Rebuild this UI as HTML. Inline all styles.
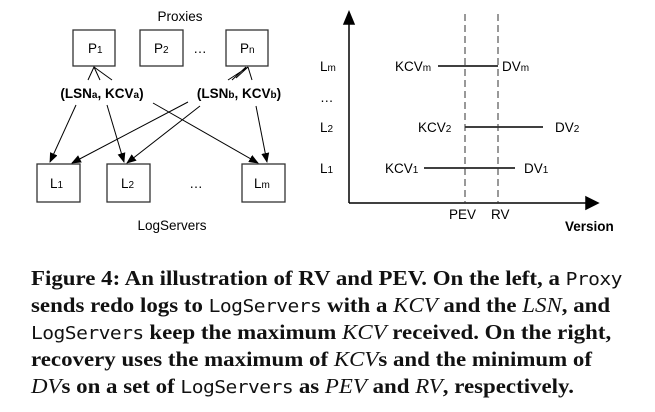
<!DOCTYPE html>
<html><head><meta charset="utf-8"><style>
body{margin:0;background:#fff;width:655px;height:412px;overflow:hidden;position:relative}
svg{position:absolute;left:0;top:0}
.cap{position:absolute;left:31px;top:265px;font:bold 21px/27px "Liberation Serif",serif;color:#111;white-space:nowrap;transform:scaleX(1.09);transform-origin:0 0}
.cap tt{font:normal 18px "DejaVu Sans Mono","Liberation Mono",monospace;letter-spacing:-0.5px}
.cap i{font-weight:normal;font-style:italic}
</style></head><body>
<svg width="655" height="412" font-family="Liberation Sans, sans-serif" font-size="13.5">
<defs><marker id="a" markerWidth="10" markerHeight="8" refX="9" refY="4" orient="auto" markerUnits="userSpaceOnUse"><path d="M0,0L10,4L0,8z" fill="#000"/></marker></defs>
<text x="180" y="21" text-anchor="middle">Proxies</text>
<g fill="#fff" stroke="#333" stroke-width="1.3">
<rect x="73" y="30" width="42" height="36"/><rect x="140" y="30" width="43" height="36"/><rect x="226" y="30" width="42" height="36"/>
<rect x="37" y="164" width="43" height="38"/><rect x="107" y="164" width="43" height="38"/><rect x="242" y="164" width="43" height="38"/>
</g>
<text x="88" y="53">P<tspan font-size="10">1</tspan></text>
<text x="154" y="53">P<tspan font-size="10">2</tspan></text>
<text x="200" y="53" text-anchor="middle">…</text>
<text x="240" y="53">P<tspan font-size="10">n</tspan></text>
<text x="50" y="188">L<tspan font-size="10">1</tspan></text>
<text x="121" y="188">L<tspan font-size="10">2</tspan></text>
<text x="196" y="188" text-anchor="middle">…</text>
<text x="254" y="188">L<tspan font-size="10">m</tspan></text>
<text x="172" y="230" text-anchor="middle">LogServers</text>
<text x="102" y="98" text-anchor="middle" font-weight="bold" font-size="13.5">(LSN<tspan font-size="10">a</tspan>, KCV<tspan font-size="10">a</tspan>)</text>
<text x="239" y="98" text-anchor="middle" font-weight="bold" font-size="13.5">(LSN<tspan font-size="10">b</tspan>, KCV<tspan font-size="10">b</tspan>)</text>
<g stroke="#000" stroke-width="1" fill="none">
<path d="M88,80L94,67L100,80M94,67L112,80" />
<path d="M228,80L248,67L236,78M248,67L252,80M246,67L232,80"/>
<line x1="76" y1="105" x2="50" y2="162" marker-end="url(#a)"/>
<line x1="107" y1="105" x2="124" y2="162" marker-end="url(#a)"/>
<line x1="153" y1="103" x2="258" y2="163" marker-end="url(#a)"/>
<line x1="188" y1="102" x2="72" y2="163" marker-end="url(#a)"/>
<line x1="200" y1="106" x2="127" y2="163" marker-end="url(#a)"/>
<line x1="256" y1="106" x2="267" y2="162" marker-end="url(#a)"/>
</g>
<g stroke="#000" stroke-width="1.5">
<line x1="349" y1="203" x2="349" y2="22"/><path d="M344,24L349,12L354,24z" fill="#000"/>
<line x1="349" y1="203" x2="588" y2="203"/><path d="M586,197L598,203L586,209z" fill="#000"/>
<line x1="438" y1="66" x2="498" y2="66"/>
<line x1="465" y1="127" x2="543" y2="127"/>
<line x1="424" y1="168" x2="515" y2="168"/>
</g>
<g stroke="#333" stroke-width="1" stroke-dasharray="7,4">
<line x1="465" y1="14" x2="465" y2="203"/><line x1="498" y1="14" x2="498" y2="203"/>
</g>
<text x="320" y="71">L<tspan font-size="10">m</tspan></text>
<text x="320" y="102">…</text>
<text x="320" y="132">L<tspan font-size="10">2</tspan></text>
<text x="320" y="173">L<tspan font-size="10">1</tspan></text>
<text x="395" y="71">KCV<tspan font-size="10">m</tspan></text>
<text x="502" y="71">DV<tspan font-size="10">m</tspan></text>
<text x="418" y="132">KCV<tspan font-size="10">2</tspan></text>
<text x="555" y="132">DV<tspan font-size="10">2</tspan></text>
<text x="385" y="173">KCV<tspan font-size="10">1</tspan></text>
<text x="524" y="173">DV<tspan font-size="10">1</tspan></text>
<text x="449" y="219">PEV</text>
<text x="491" y="219">RV</text>
<text x="565" y="231" font-weight="bold">Version</text>
</svg>
<div class="cap">Figure 4: An illustration of RV and PEV. On the left, a <tt>Proxy</tt><br>sends redo logs to <tt>LogServers</tt> with a <i>KCV</i> and the <i>LSN</i>, and<br><tt>LogServers</tt> keep the maximum <i>KCV</i> received. On the right,<br>recovery uses the maximum of <i>KCV</i>s and the minimum of<br><i>DV</i>s on a set of <tt>LogServers</tt> as <i>PEV</i> and <i>RV</i>, respectively.</div>
</body></html>
